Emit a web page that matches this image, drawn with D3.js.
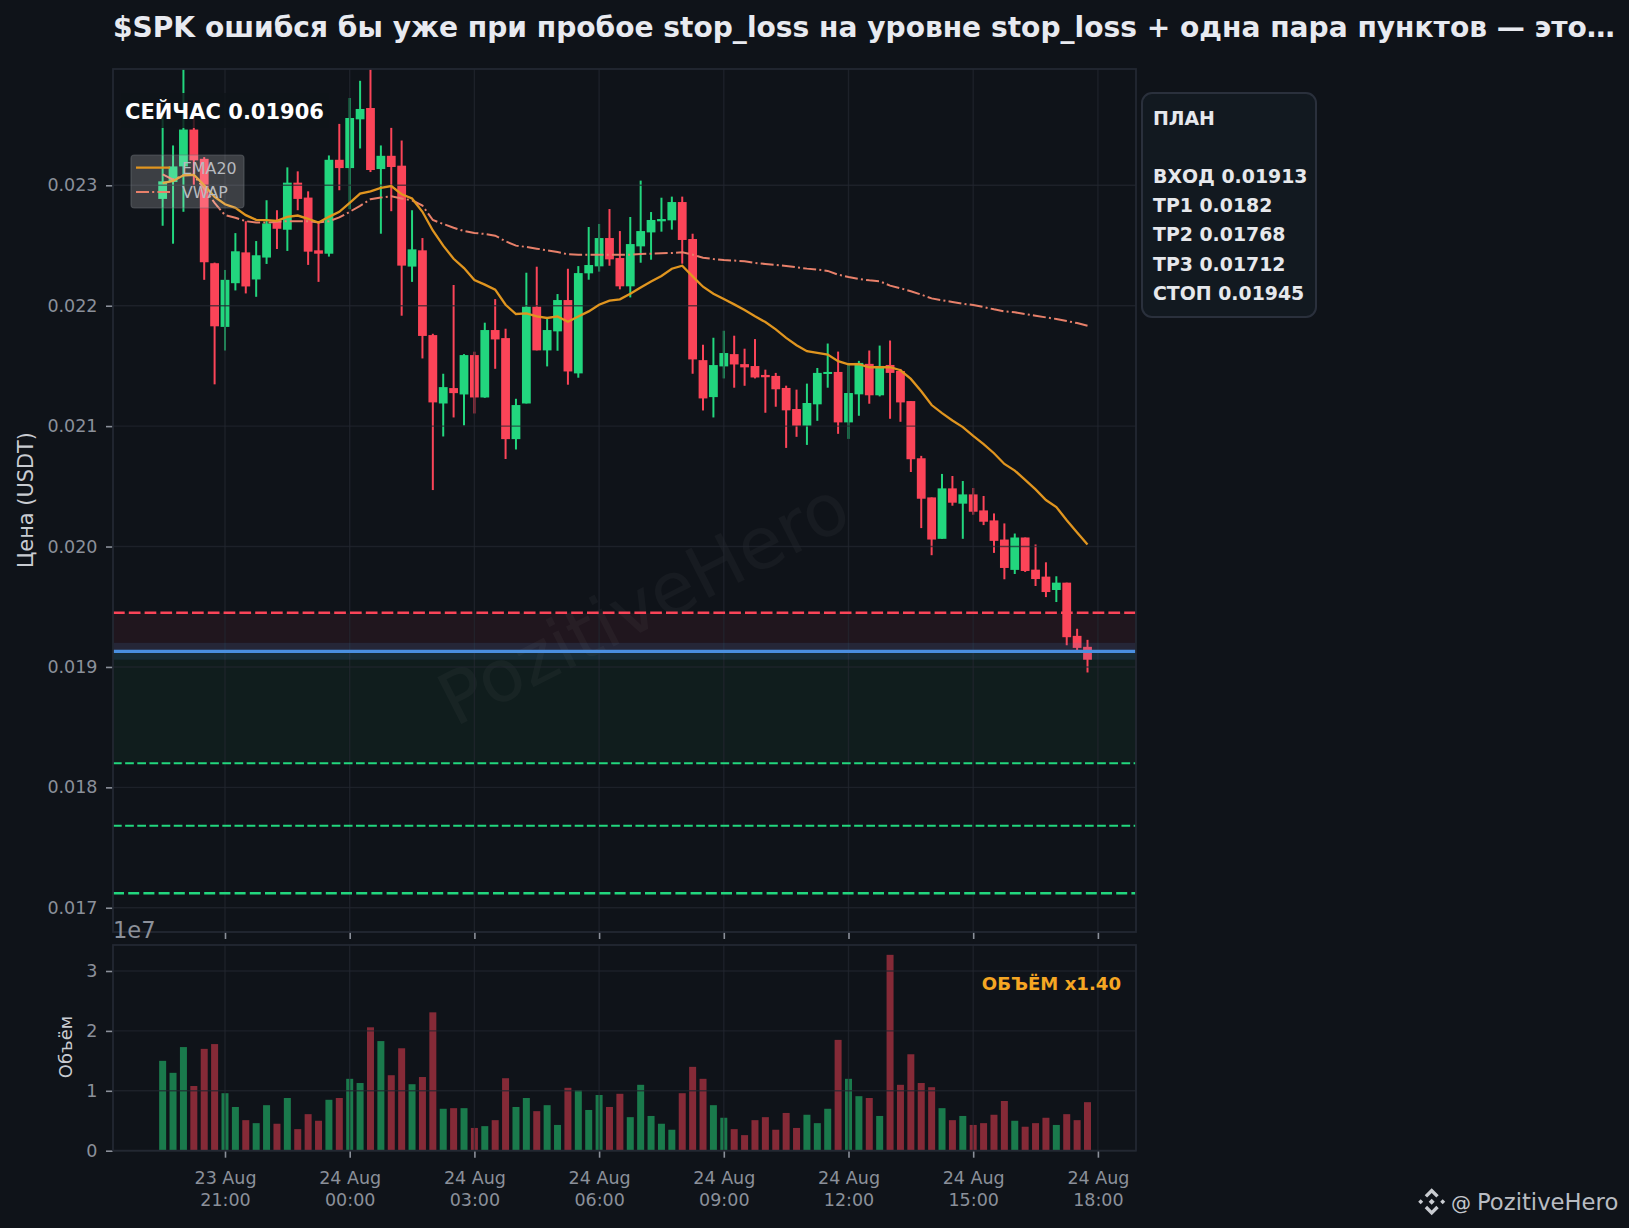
<!DOCTYPE html>
<html>
<head>
<meta charset="utf-8">
<script src="https://cdn.jsdelivr.net/npm/d3@7"></script>
<style>
  html, body { margin: 0; padding: 0; background: #0f1319; }
  svg { display: block; }
  text { font-family: "DejaVu Sans", sans-serif; }
</style>
</head>
<body>
<script>
// 90 candles, 15 min each, starting 23 Aug 19:30
const opens = [0.022887,0.023028,0.023157,0.023463,0.02322,0.022353,0.021824,0.022187,0.022443,0.022218,
  0.0224,0.022711,0.022631,0.023022,0.022898,0.02246,0.022432,0.023212,0.023143,0.023548,
  0.023642,0.023135,0.023245,0.023163,0.022325,0.02246,0.021756,0.021188,0.021316,0.021263,
  0.02159,0.021238,0.021798,0.021731,0.020892,0.021188,0.021992,0.021629,0.021787,0.022047,
  0.021438,0.022269,0.022327,0.022562,0.022396,0.022161,0.022493,0.022609,0.022701,0.022709,
  0.022861,0.022554,0.021548,0.021241,0.021496,0.021598,0.021515,0.021499,0.021425,0.021417,
  0.021317,0.021142,0.021003,0.021181,0.021433,0.02145,0.021031,0.021264,0.021517,0.021256,
  0.021508,0.021458,0.021208,0.020733,0.020408,0.020064,0.020483,0.020356,0.020433,0.0203,
  0.020217,0.020058,0.019806,0.020075,0.019808,0.01975,0.019639,0.0197,0.019258,0.019167];
const highs = [0.023579,0.023331,0.02397,0.023565,0.023234,0.022358,0.022297,0.022603,0.022702,0.022537,
  0.022876,0.022793,0.023149,0.023116,0.02295,0.022702,0.023248,0.02351,0.023725,0.023868,
  0.02400,0.023331,0.023477,0.023372,0.022793,0.022562,0.021767,0.021435,0.022172,0.021598,
  0.021618,0.021859,0.022055,0.021809,0.021227,0.022274,0.022324,0.021898,0.022097,0.022307,
  0.022329,0.022654,0.022679,0.022803,0.02262,0.022737,0.023039,0.022778,0.022897,0.022906,
  0.022906,0.022598,0.021676,0.021734,0.021792,0.021751,0.021643,0.021723,0.021469,0.021442,
  0.021336,0.021303,0.021353,0.021483,0.021686,0.021619,0.021525,0.021542,0.021628,0.021669,
  0.021711,0.021475,0.021208,0.020753,0.020408,0.020603,0.020586,0.020544,0.020486,0.02042,
  0.020275,0.020192,0.020108,0.020075,0.020017,0.019869,0.019753,0.0197,0.019317,0.019225];
const lows = [0.022664,0.022515,0.02278,0.0230,0.022215,0.021347,0.021628,0.022127,0.022102,0.022074,
  0.022347,0.022471,0.022455,0.022793,0.022339,0.022198,0.022408,0.022959,0.022802,0.023306,
  0.02311,0.022598,0.022785,0.021917,0.022198,0.021562,0.020469,0.020914,0.021072,0.021006,
  0.021105,0.021235,0.021476,0.020727,0.020806,0.021188,0.021629,0.021496,0.021626,0.021344,
  0.021402,0.022216,0.022283,0.022332,0.022136,0.022069,0.022357,0.022382,0.022615,0.022632,
  0.022349,0.021435,0.02113,0.021072,0.021396,0.021319,0.021335,0.021396,0.021111,0.021161,
  0.020819,0.020911,0.020844,0.021044,0.021319,0.020936,0.020894,0.021086,0.021186,0.021247,
  0.021061,0.021036,0.020619,0.020153,0.019928,0.020064,0.020339,0.020064,0.020264,0.020178,
  0.019947,0.019728,0.019772,0.019789,0.019672,0.01958,0.019539,0.01918,0.019136,0.018954];
const closes = [0.023033,0.023157,0.023463,0.023207,0.022361,0.021829,0.022215,0.022452,0.02216,0.022419,
  0.022683,0.022639,0.023022,0.022887,0.022449,0.022432,0.023212,0.023143,0.023559,0.023634,
  0.023127,0.023245,0.023152,0.022333,0.022468,0.021749,0.021197,0.021324,0.021274,0.02159,
  0.021238,0.021798,0.02172,0.020892,0.021175,0.021992,0.021629,0.021798,0.022047,0.021454,
  0.022271,0.022338,0.022562,0.022385,0.022161,0.022512,0.02262,0.022712,0.02272,0.022861,
  0.022546,0.021554,0.02123,0.021507,0.021607,0.021512,0.021488,0.021404,0.021406,0.021306,
  0.021131,0.021003,0.021192,0.021442,0.02145,0.021031,0.021275,0.021525,0.021256,0.0215,
  0.021442,0.021197,0.020725,0.020397,0.020058,0.020483,0.020364,0.020433,0.020289,0.020206,
  0.020047,0.019822,0.020075,0.019797,0.01973,0.019622,0.0197,0.019247,0.019158,0.01906];
const volumes = [1.50,1.30,1.73,1.08,1.70,1.78,0.96,0.73,0.51,0.46,
  0.76,0.45,0.88,0.36,0.61,0.50,0.85,0.88,1.20,1.13,
  2.06,1.83,1.26,1.71,1.11,1.23,2.31,0.70,0.71,0.71,
  0.38,0.41,0.51,1.21,0.73,0.88,0.66,0.76,0.43,1.05,
  1.01,0.68,0.93,0.73,0.95,0.56,1.10,0.58,0.45,0.35,
  0.96,1.40,1.20,0.76,0.55,0.36,0.26,0.51,0.56,0.35,
  0.63,0.38,0.60,0.46,0.70,1.85,1.20,0.91,0.88,0.58,
  3.27,1.10,1.61,1.13,1.06,0.71,0.51,0.58,0.43,0.46,
  0.60,0.83,0.50,0.40,0.46,0.55,0.43,0.61,0.51,0.81];
const ema20 = [0.023019,0.023036,0.023083,0.023088,0.0230,0.022904,0.022843,0.022813,0.022752,0.022713,
  0.022711,0.022705,0.022738,0.022749,0.022722,0.022691,0.022738,0.02278,0.022854,0.022931,
  0.02295,0.022978,0.022994,0.022926,0.02289,0.02278,0.022625,0.022499,0.02239,0.022313,
  0.022213,0.022175,0.022133,0.022008,0.021931,0.021936,0.021911,0.021898,0.021911,0.021867,
  0.021911,0.021953,0.022008,0.022042,0.022053,0.0221,0.022152,0.022202,0.022247,0.022307,
  0.022332,0.022244,0.022158,0.0221,0.022055,0.022011,0.021964,0.021912,0.021864,0.021803,
  0.021733,0.021672,0.021622,0.021608,0.021594,0.021539,0.021514,0.021514,0.021489,0.021489,
  0.021489,0.021464,0.021392,0.021289,0.021175,0.021108,0.021047,0.020992,0.020919,0.02085,
  0.020775,0.020686,0.020631,0.020553,0.020475,0.020386,0.020328,0.020219,0.020117,0.020017];
const vwap = [0.023091,0.023047,0.023083,0.023083,0.022972,0.022854,0.022752,0.02273,0.022702,0.022691,
  0.022691,0.022697,0.022702,0.022702,0.022702,0.022691,0.022702,0.022733,0.02278,0.022829,
  0.022884,0.022898,0.022909,0.02289,0.022876,0.022832,0.022712,0.022679,0.022648,0.02262,
  0.022604,0.022596,0.022582,0.022535,0.022499,0.022488,0.022474,0.02246,0.022446,0.022427,
  0.022424,0.022424,0.022424,0.022424,0.022424,0.022424,0.022429,0.022432,0.022435,0.022438,
  0.022443,0.022424,0.022399,0.022388,0.022379,0.022375,0.022369,0.022355,0.022347,0.022339,
  0.02233,0.022319,0.022308,0.0223,0.022289,0.022258,0.022239,0.022222,0.022211,0.022203,
  0.022167,0.022145,0.02212,0.022092,0.022061,0.022045,0.022031,0.022017,0.022006,0.021989,
  0.02197,0.021953,0.021945,0.021931,0.021917,0.021903,0.02189,0.021873,0.021856,0.021834];

const priceTicks = [0.017, 0.018, 0.019, 0.020, 0.021, 0.022, 0.023];
const volumeTicks = [0, 1, 2, 3];
const timeTicks = ['2025-08-23T21:00Z', '2025-08-24T00:00Z', '2025-08-24T03:00Z', '2025-08-24T06:00Z',
  '2025-08-24T09:00Z', '2025-08-24T12:00Z', '2025-08-24T15:00Z', '2025-08-24T18:00Z'].map(d => new Date(d));

const entry = 0.01913, stop = 0.01945;
const targets = [0.0182, 0.01768, 0.01712];
const entryBand = [0.01906, 0.0192];
const planLines = ['ПЛАН', '', 'ВХОД 0.01913', 'TP1 0.0182', 'TP2 0.01768', 'TP3 0.01712', 'СТОП 0.01945'];

const UP = '#22d67e', DOWN = '#fb4458', GRID = '#232730', SPINE = '#232832', TICK = '#8b909a';

const W = 1629, H = 1228;
const left = 113, right = 1136;
const mainTop = 69, mainBottom = 932, volTop = 945, volBottom = 1150.7;

const start = new Date('2025-08-23T19:30Z');
const times = opens.map((d, i) => d3.utcMinute.offset(start, i * 15));

const x = d3.scaleUtc()
    .domain([new Date('2025-08-23T18:18:20Z'), new Date('2025-08-24T18:55:00Z')])
    .range([left, right]);
const y = d3.scaleLinear().domain([0.0167986, 0.02396596]).range([mainBottom, mainTop]);
const yv = d3.scaleLinear().domain([0, 3.434]).range([volBottom, volTop]);

const svg = d3.select('body').append('svg').attr('width', W).attr('height', H);
svg.append('rect').attr('width', W).attr('height', H).attr('fill', '#0f1319');

const defs = svg.append('defs');
defs.append('clipPath').attr('id', 'clip-main').append('rect')
    .attr('x', left).attr('y', mainTop).attr('width', right - left).attr('height', mainBottom - mainTop);

const main = svg.append('g').attr('clip-path', 'url(#clip-main)');

// zones
main.append('rect').attr('x', left).attr('width', right - left)
    .attr('y', y(stop)).attr('height', y(entry) - y(stop)).attr('fill', '#fb4458').attr('opacity', 0.075);
main.append('rect').attr('x', left).attr('width', right - left)
    .attr('y', y(entry)).attr('height', y(targets[0]) - y(entry)).attr('fill', '#22d67e').attr('opacity', 0.05);

main.append('text')
    .attr('transform', 'translate(646,608) rotate(-27)')
    .attr('text-anchor', 'middle').attr('dominant-baseline', 'middle')
    .attr('font-size', 72).attr('fill', '#fff').attr('opacity', 0.03)
    .text('PozitiveHero');

// candles
const candles = main.append('g').selectAll('g').data(times).join('g');
candles.append('line')
    .attr('x1', d => x(d)).attr('x2', d => x(d))
    .attr('y1', (d, i) => y(highs[i])).attr('y2', (d, i) => y(lows[i]))
    .attr('stroke', (d, i) => closes[i] >= opens[i] ? UP : DOWN).attr('stroke-width', 2);
candles.append('rect')
    .attr('x', d => x(d) - 4.4).attr('width', 8.8)
    .attr('y', (d, i) => y(Math.max(opens[i], closes[i])))
    .attr('height', (d, i) => Math.max(1.5, Math.abs(y(opens[i]) - y(closes[i]))))
    .attr('fill', (d, i) => closes[i] >= opens[i] ? UP : DOWN);

function grid(sel, ticks, scale, top, bottom) {
    sel.append('g').selectAll('line').data(timeTicks).join('line')
        .attr('x1', d => x(d)).attr('x2', d => x(d)).attr('y1', top).attr('y2', bottom)
        .attr('stroke', GRID).attr('stroke-width', 1.4).attr('opacity', 0.7);
    sel.append('g').selectAll('line').data(ticks).join('line')
        .attr('x1', left).attr('x2', right).attr('y1', d => scale(d)).attr('y2', d => scale(d))
        .attr('stroke', GRID).attr('stroke-width', 1.4).attr('opacity', 0.7);
}
grid(main, priceTicks, y, mainTop, mainBottom);

// ema and vwap
const priceLine = d3.line().x((d, i) => x(times[i])).y(d => y(d));
main.append('path').attr('d', priceLine(vwap)).attr('fill', 'none')
    .attr('stroke', '#e8806a').attr('stroke-width', 2).attr('stroke-dasharray', '13,3.2,2,3.2');
main.append('path').attr('d', priceLine(ema20)).attr('fill', 'none')
    .attr('stroke', '#e0951f').attr('stroke-width', 2.3);

// entry band, levels
main.append('rect').attr('x', left).attr('width', right - left)
    .attr('y', y(entryBand[1])).attr('height', y(entryBand[0]) - y(entryBand[1]))
    .attr('fill', '#4a90e2').attr('opacity', 0.13);
main.append('line').attr('x1', left).attr('x2', right).attr('y1', y(stop)).attr('y2', y(stop))
    .attr('stroke', DOWN).attr('stroke-width', 2.6).attr('stroke-dasharray', '11.7,4.1');
main.append('line').attr('x1', left).attr('x2', right).attr('y1', y(entry)).attr('y2', y(entry))
    .attr('stroke', '#4a8fe0').attr('stroke-width', 3.2);
main.selectAll('.tp').data(targets).join('line').attr('class', 'tp')
    .attr('x1', left).attr('x2', right).attr('y1', d => y(d)).attr('y2', d => y(d))
    .attr('stroke', UP)
    .attr('stroke-width', (d, i) => i === 2 ? 2.5 : 2)
    .attr('stroke-dasharray', (d, i) => i === 2 ? '11,4.2' : '8.7,3.45');

// spines and ticks of main axes
const yAxis = d3.axisLeft(y).tickValues(priceTicks).tickFormat(d3.format('.3f')).tickSize(7).tickPadding(8.5);
const xAxisTop = d3.axisBottom(x).tickValues(timeTicks).tickFormat('').tickSize(7);
const yvAxis = d3.axisLeft(yv).tickValues(volumeTicks).tickFormat(d3.format('d')).tickSize(7).tickPadding(8.5);
const xAxis = d3.axisBottom(x).tickValues(timeTicks).tickFormat('').tickSize(7);

function style(g) {
    g.select('.domain').remove();
    g.selectAll('.tick line').attr('stroke', TICK).attr('stroke-width', 1.6);
    g.selectAll('.tick text').attr('fill', TICK).attr('font-size', 17.5).attr('font-family', '"DejaVu Sans"');
}
svg.append('g').attr('transform', `translate(${left},0)`).call(yAxis).call(style);
svg.append('g').attr('transform', `translate(0,${mainBottom})`).call(xAxisTop).call(style);

svg.append('rect').attr('x', left).attr('y', mainTop).attr('width', right - left).attr('height', mainBottom - mainTop)
    .attr('fill', 'none').attr('stroke', SPINE).attr('stroke-width', 1.8);

// text box with current price
svg.append('rect').attr('x', 121).attr('y', 93).attr('width', 208).attr('height', 35)
    .attr('fill', '#0f1319').attr('opacity', 0.82);
svg.append('text').attr('x', 125).attr('y', 119).attr('font-size', 21).attr('font-weight', 700)
    .attr('fill', '#fff').text('СЕЙЧАС 0.01906');

// legend
const legend = svg.append('g');
legend.append('rect').attr('x', 131).attr('y', 155).attr('width', 113).attr('height', 53).attr('rx', 3.5)
    .attr('fill', '#fff').attr('fill-opacity', 0.19).attr('stroke', '#6a6e74').attr('stroke-opacity', 0.5).attr('stroke-width', 1.2);
legend.append('line').attr('x1', 136).attr('x2', 170).attr('y1', 167.7).attr('y2', 167.7)
    .attr('stroke', '#e0951f').attr('stroke-width', 2.3);
legend.append('line').attr('x1', 136).attr('x2', 170).attr('y1', 192).attr('y2', 192)
    .attr('stroke', '#e8806a').attr('stroke-width', 2).attr('stroke-dasharray', '13,3.2,2,3.2');
legend.selectAll('text').data(['EMA20', 'VWAP']).join('text')
    .attr('x', 182).attr('y', (d, i) => 173.5 + i * 24.3)
    .attr('font-size', 15.8).attr('fill', '#b7babf').text(d => d);

// volume panel
const vol = svg.append('g');
vol.selectAll('rect').data(times).join('rect')
    .attr('x', d => x(d) - 3.5).attr('width', 7)
    .attr('y', (d, i) => yv(volumes[i]))
    .attr('height', (d, i) => yv(0) - yv(volumes[i]))
    .attr('fill', (d, i) => closes[i] >= opens[i] ? '#1a7a4c' : '#852a37');
grid(svg, volumeTicks, yv, volTop, volBottom);
svg.append('g').attr('transform', `translate(${left},0)`).call(yvAxis).call(style);
const xg = svg.append('g').attr('transform', `translate(0,${volBottom})`).call(xAxis).call(style);
xg.selectAll('.tick').append('text').attr('fill', TICK).attr('font-size', 17.5).attr('text-anchor', 'middle')
    .attr('y', 33).text(d => d3.utcFormat('%d %b')(d));
xg.selectAll('.tick').append('text').attr('fill', TICK).attr('font-size', 17.5).attr('text-anchor', 'middle')
    .attr('y', 55).text(d => d3.utcFormat('%H:%M')(d));
svg.append('rect').attr('x', left).attr('y', volTop).attr('width', right - left).attr('height', volBottom - volTop)
    .attr('fill', 'none').attr('stroke', SPINE).attr('stroke-width', 1.8);

svg.append('text').attr('x', 113).attr('y', 938).attr('font-size', 22.6).attr('fill', TICK).text('1e7');
svg.append('text').attr('x', 1121).attr('y', 990).attr('text-anchor', 'end').attr('font-size', 18.1)
    .attr('font-weight', 700).attr('fill', '#f5a623').text('ОБЪЁМ x1.40');

// axis titles
svg.append('text').attr('transform', 'translate(33,500) rotate(-90)').attr('text-anchor', 'middle')
    .attr('font-size', 20.9).attr('fill', '#c9ccd1').text('Цена (USDT)');
svg.append('text').attr('transform', 'translate(72,1047) rotate(-90)').attr('text-anchor', 'middle')
    .attr('font-size', 17.9).attr('fill', '#c9ccd1').text('Объём');

// title
svg.append('text').attr('x', 113).attr('y', 37).attr('font-size', 28.1).attr('font-weight', 700)
    .attr('fill', '#e8eaf0')
    .text('$SPK ошибся бы уже при пробое stop_loss на уровне stop_loss + одна пара пунктов — это…');

// plan box
svg.append('rect').attr('x', 1142).attr('y', 93).attr('width', 174).attr('height', 224).attr('rx', 10)
    .attr('fill', '#121920').attr('stroke', '#2a303c').attr('stroke-width', 2);
svg.append('g').selectAll('text').data(planLines).join('text')
    .attr('x', 1153).attr('y', (d, i) => 125 + i * 29.1)
    .attr('font-size', 18.9).attr('font-weight', 700).attr('fill', '#e6e8ec').text(d => d);

// bottom right mark
const mark = svg.append('g').attr('transform', 'translate(1431.7,1201.7)').attr('fill', '#c9ccd1');
mark.append('path').attr('fill-rule', 'evenodd').attr('d',
    'M0,-13.5 L7,-6.5 L4.6,-4.1 L0,-8.7 L-4.6,-4.1 L-7,-6.5 Z ' +
    'M0,13.5 L7,6.5 L4.6,4.1 L0,8.7 L-4.6,4.1 L-7,6.5 Z ' +
    'M-13.5,0 L-11,-2.5 L-8.5,0 L-11,2.5 Z M13.5,0 L11,-2.5 L8.5,0 L11,2.5 Z ' +
    'M0,-3 L3,0 L0,3 L-3,0 Z');
svg.append('text').attr('x', 1451).attr('y', 1210).attr('font-size', 20)
    .attr('fill', '#c4c7cc').text('@');
svg.append('text').attr('x', 1477).attr('y', 1210).attr('font-size', 22.7)
    .attr('fill', '#b9bcc2').text('PozitiveHero');
</script>
</body>
</html>
